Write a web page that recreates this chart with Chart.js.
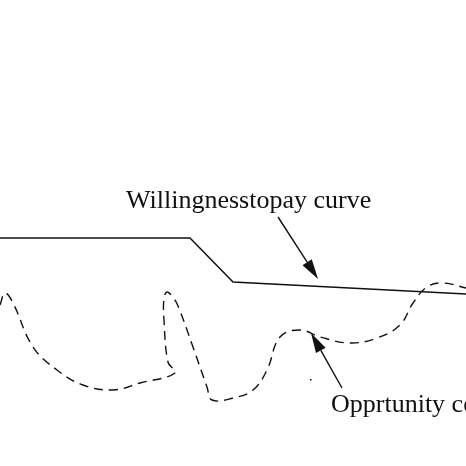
<!DOCTYPE html>
<html>
<head>
<meta charset="utf-8">
<script src="https://cdn.jsdelivr.net/npm/chart.js@4/dist/chart.umd.min.js"></script>
<style>
  html, body { margin: 0; padding: 0; background: #fff; }
  #wrap { width: 466px; height: 466px; }
</style>
</head>
<body>
<div id="wrap"><canvas id="fig"></canvas></div>
<script>
"use strict";

// curve points (y grows downward, same as the picture)
var wtpX = [0, 190, 233, 466];
var wtpY = [238, 238, 282, 294];

var oppX = [0, 5, 13, 33, 57, 83, 113, 140, 175, 168, 164, 164, 167, 172, 178, 193, 207, 212, 233, 253, 267, 280, 300, 320, 350, 377, 400, 413, 427, 443, 466];
var oppY = [305, 293, 303, 347, 370, 385, 390, 383, 373, 362, 320, 298, 292, 296, 306, 347, 387, 400, 398, 390, 370, 337, 330, 337, 343, 338, 325, 303, 287, 283, 288];

var labelText = ["Willingnesstopay curve", "Opprtunity cost curve"];

function toPoints(xs, ys) {
    var pts = [];
    for (var i = 0; i < xs.length; i++) {
        pts.push({ x: xs[i], y: ys[i] });
    }
    return pts;
}

/* draws a line with a filled arrow head at (x2, y2) */
function arrow(ctx, x1, y1, x2, y2) {
    var ang = Math.atan2(y2 - y1, x2 - x1);
    var len = 20, half = 5.5;
    var bx = x2 - len * Math.cos(ang), by = y2 - len * Math.sin(ang);
    ctx.beginPath();
    ctx.moveTo(x1, y1);
    ctx.lineTo(bx, by);
    ctx.stroke();
    ctx.beginPath();
    ctx.moveTo(x2, y2);
    ctx.lineTo(bx + half * Math.sin(ang), by - half * Math.cos(ang));
    ctx.lineTo(bx - half * Math.sin(ang), by + half * Math.cos(ang));
    ctx.closePath();
    ctx.fill();
}

var notes = {
    id: "notes",
    afterDatasetsDraw: function(chart) {
        var ctx = chart.ctx;
        var sx = chart.scales.x, sy = chart.scales.y;
        var px = function(v) { return sx.getPixelForValue(v); };
        var py = function(v) { return sy.getPixelForValue(v); };
        ctx.save();
        ctx.fillStyle = "#111";
        ctx.strokeStyle = "#111";
        ctx.lineWidth = 1.4;
        ctx.font = "26px 'Liberation Serif', 'Times New Roman', serif";
        ctx.textBaseline = "alphabetic";
        ctx.fillText(labelText[0], px(126), py(208));
        ctx.fillText(labelText[1], px(331), py(412));
        arrow(ctx, px(278), py(217), px(318), py(279));
        arrow(ctx, px(342), py(388), px(311), py(333));
        // stray speck in the scan
        ctx.fillRect(px(310), py(379), 1.5, 1.5);
        ctx.restore();
    }
};

new Chart(document.getElementById("fig"), {
    type: "scatter",
    data: {
        datasets: [{
            label: "Willingness to pay",
            data: toPoints(wtpX, wtpY),
            showLine: true,
            borderColor: "#111",
            borderWidth: 1.5,
            pointRadius: 0,
            tension: 0
        }, {
            label: "Opportunity cost",
            data: toPoints(oppX, oppY),
            showLine: true,
            borderColor: "#111",
            borderWidth: 1.4,
            borderDash: [9, 6],
            pointRadius: 0,
            tension: 0.4
        }]
    },
    options: {
        responsive: true,
        maintainAspectRatio: false,
        animation: false,
        layout: { padding: 0 },
        scales: {
            x: { type: "linear", min: 0, max: 466, display: false },
            y: { type: "linear", min: 0, max: 466, reverse: true, display: false }
        },
        plugins: {
            legend: { display: false },
            tooltip: { enabled: false }
        }
    },
    plugins: [notes]
});
</script>
</body>
</html>
